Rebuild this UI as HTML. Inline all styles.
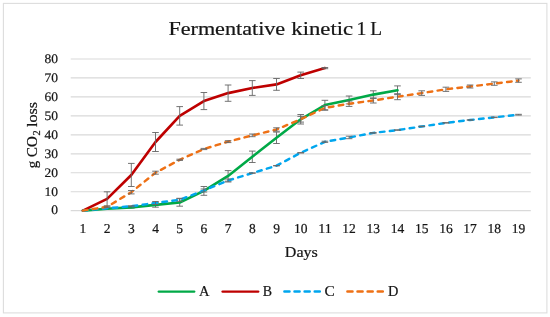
<!DOCTYPE html>
<html><head><meta charset="utf-8"><title>Fermentative kinetic 1 L</title>
<style>
html,body{margin:0;padding:0;background:#fff}
svg{display:block}
text{font-family:"Liberation Serif","DejaVu Serif",serif;fill:#161616;stroke:#161616;stroke-width:0.22px}
</style></head><body>
<svg width="550" height="317" viewBox="0 0 550 317">
<rect width="550" height="317" fill="#fff"/>
<rect x="3.4" y="3.4" width="543.5" height="309.5" fill="none" stroke="#dddddd" stroke-width="1.1"/>
<g stroke="#d9d9d9" stroke-width="1.15"><line x1="70.7" x2="530.8" y1="210.6" y2="210.6"/><line x1="70.7" x2="530.8" y1="191.7" y2="191.7"/><line x1="70.7" x2="530.8" y1="172.7" y2="172.7"/><line x1="70.7" x2="530.8" y1="153.8" y2="153.8"/><line x1="70.7" x2="530.8" y1="134.8" y2="134.8"/><line x1="70.7" x2="530.8" y1="115.8" y2="115.8"/><line x1="70.7" x2="530.8" y1="96.9" y2="96.9"/><line x1="70.7" x2="530.8" y1="77.9" y2="77.9"/><line x1="70.7" x2="530.8" y1="59.0" y2="59.0"/></g>
<text y="35.2" font-size="19.4" stroke="#1a1a1a" stroke-width="0.25"><tspan x="168.4" textLength="116.8" lengthAdjust="spacingAndGlyphs">Fermentative</tspan> <tspan x="291.3" textLength="61.8" lengthAdjust="spacingAndGlyphs">kinetic</tspan> <tspan x="356.4" textLength="10" lengthAdjust="spacingAndGlyphs">1</tspan> <tspan x="370.3" textLength="11.8" lengthAdjust="spacingAndGlyphs">L</tspan></text>
<g font-size="13.0" text-rendering="geometricPrecision"><text x="57.9" y="214.4" text-anchor="end" textLength="6.75" lengthAdjust="spacingAndGlyphs">0</text><text x="57.9" y="195.5" text-anchor="end" textLength="13.50" lengthAdjust="spacingAndGlyphs">10</text><text x="57.9" y="176.5" text-anchor="end" textLength="13.50" lengthAdjust="spacingAndGlyphs">20</text><text x="57.9" y="157.6" text-anchor="end" textLength="13.50" lengthAdjust="spacingAndGlyphs">30</text><text x="57.9" y="138.6" text-anchor="end" textLength="13.50" lengthAdjust="spacingAndGlyphs">40</text><text x="57.9" y="119.6" text-anchor="end" textLength="13.50" lengthAdjust="spacingAndGlyphs">50</text><text x="57.9" y="100.7" text-anchor="end" textLength="13.50" lengthAdjust="spacingAndGlyphs">60</text><text x="57.9" y="81.7" text-anchor="end" textLength="13.50" lengthAdjust="spacingAndGlyphs">70</text><text x="57.9" y="62.8" text-anchor="end" textLength="13.50" lengthAdjust="spacingAndGlyphs">80</text></g>
<g font-size="13.6" text-rendering="geometricPrecision"><text x="82.9" y="233.4" text-anchor="middle" textLength="6.75" lengthAdjust="spacingAndGlyphs">1</text><text x="107.1" y="233.4" text-anchor="middle" textLength="6.75" lengthAdjust="spacingAndGlyphs">2</text><text x="131.3" y="233.4" text-anchor="middle" textLength="6.75" lengthAdjust="spacingAndGlyphs">3</text><text x="155.5" y="233.4" text-anchor="middle" textLength="6.75" lengthAdjust="spacingAndGlyphs">4</text><text x="179.7" y="233.4" text-anchor="middle" textLength="6.75" lengthAdjust="spacingAndGlyphs">5</text><text x="203.9" y="233.4" text-anchor="middle" textLength="6.75" lengthAdjust="spacingAndGlyphs">6</text><text x="228.1" y="233.4" text-anchor="middle" textLength="6.75" lengthAdjust="spacingAndGlyphs">7</text><text x="252.3" y="233.4" text-anchor="middle" textLength="6.75" lengthAdjust="spacingAndGlyphs">8</text><text x="276.5" y="233.4" text-anchor="middle" textLength="6.75" lengthAdjust="spacingAndGlyphs">9</text><text x="300.7" y="233.4" text-anchor="middle" textLength="13.50" lengthAdjust="spacingAndGlyphs">10</text><text x="324.9" y="233.4" text-anchor="middle" textLength="13.50" lengthAdjust="spacingAndGlyphs">11</text><text x="349.1" y="233.4" text-anchor="middle" textLength="13.50" lengthAdjust="spacingAndGlyphs">12</text><text x="373.3" y="233.4" text-anchor="middle" textLength="13.50" lengthAdjust="spacingAndGlyphs">13</text><text x="397.5" y="233.4" text-anchor="middle" textLength="13.50" lengthAdjust="spacingAndGlyphs">14</text><text x="421.7" y="233.4" text-anchor="middle" textLength="13.50" lengthAdjust="spacingAndGlyphs">15</text><text x="445.9" y="233.4" text-anchor="middle" textLength="13.50" lengthAdjust="spacingAndGlyphs">16</text><text x="470.1" y="233.4" text-anchor="middle" textLength="13.50" lengthAdjust="spacingAndGlyphs">17</text><text x="494.3" y="233.4" text-anchor="middle" textLength="13.50" lengthAdjust="spacingAndGlyphs">18</text><text x="518.5" y="233.4" text-anchor="middle" textLength="13.50" lengthAdjust="spacingAndGlyphs">19</text></g>
<text x="301.3" y="256.9" text-anchor="middle" font-size="14.8" textLength="33" lengthAdjust="spacingAndGlyphs">Days</text>
<text transform="translate(36.5 167.9) rotate(-90)" font-size="14.9"><tspan x="-0.3" y="0">g CO</tspan><tspan x="32.4" y="3.1" font-size="10.4">2</tspan> <tspan x="41.0" y="0" textLength="25" lengthAdjust="spacingAndGlyphs">loss</tspan></text>
<g fill="none" stroke-linecap="round" stroke-linejoin="round">
<path stroke="#686868" stroke-width="0.92" stroke-linecap="butt" d="M131.3 206.6V208.1M128.0 206.6h6.6M128.0 208.1h6.6M155.5 202.6V207.2M152.2 202.6h6.6M152.2 207.2h6.6M179.7 198.7V206.2M176.4 198.7h6.6M176.4 206.2h6.6M203.9 186.5V195.3M200.6 186.5h6.6M200.6 195.3h6.6M228.1 170.6V181.2M224.8 170.6h6.6M224.8 181.2h6.6M252.3 151.1V162.5M249.0 151.1h6.6M249.0 162.5h6.6M276.5 132.1V143.5M273.2 132.1h6.6M273.2 143.5h6.6M300.7 114.5V124.0M297.4 114.5h6.6M297.4 124.0h6.6M324.9 100.3V109.8M321.6 100.3h6.6M321.6 109.8h6.6M349.1 96.0V103.9M345.8 96.0h6.6M345.8 103.9h6.6M373.3 90.8V98.4M370.0 90.8h6.6M370.0 98.4h6.6M397.5 85.9V94.6M394.2 85.9h6.6M394.2 94.6h6.6"/>
<polyline stroke="#00a947" stroke-width="2.6" points="82.9,210.6 107.1,208.7 131.3,207.4 155.5,204.9 179.7,202.5 203.9,190.9 228.1,175.9 252.3,156.8 276.5,137.8 300.7,119.3 324.9,105.0 349.1,99.9 373.3,94.6 397.5,90.3"/>
<polyline stroke="#be0000" stroke-width="2.65" points="82.9,210.6 107.1,198.9 131.3,175.0 155.5,142.0 179.7,115.8 203.9,101.1 228.1,93.1 252.3,88.0 276.5,84.4 300.7,75.3 324.9,68.1"/>
<path stroke="#686868" stroke-width="0.92" stroke-linecap="butt" d="M107.1 191.8V205.9M103.8 191.8h6.6M103.8 205.9h6.6M131.3 163.4V186.5M128.0 163.4h6.6M128.0 186.5h6.6M155.5 132.5V151.5M152.2 132.5h6.6M152.2 151.5h6.6M179.7 106.6V125.1M176.4 106.6h6.6M176.4 125.1h6.6M203.9 92.5V109.6M200.6 92.5h6.6M200.6 109.6h6.6M228.1 85.0V101.3M224.8 85.0h6.6M224.8 101.3h6.6M252.3 80.6V95.4M249.0 80.6h6.6M249.0 95.4h6.6M276.5 78.5V90.3M273.2 78.5h6.6M273.2 90.3h6.6M300.7 72.1V78.5M297.4 72.1h6.6M297.4 78.5h6.6M324.9 67.5V68.7M321.6 67.5h6.6M321.6 68.7h6.6"/>
<polyline stroke="#00a6ee" stroke-width="2.45" stroke-dasharray="4.6 5.4" points="82.9,210.6 107.1,208.3 131.3,206.2 155.5,203.0 179.7,199.8 203.9,190.5 228.1,180.5 252.3,173.1 276.5,165.7 300.7,152.8 324.9,141.8 349.1,137.5 373.3,132.9 397.5,130.1 421.7,126.5 445.9,122.9 470.1,120.0 494.3,117.4 518.5,114.7"/>
<path stroke="#686868" stroke-width="0.92" stroke-linecap="butt" d="M131.3 205.7V206.8M128.0 205.7h6.6M128.0 206.8h6.6M155.5 201.5V204.5M152.2 201.5h6.6M152.2 204.5h6.6M179.7 198.3V201.3M176.4 198.3h6.6M176.4 201.3h6.6M203.9 189.0V192.0M200.6 189.0h6.6M200.6 192.0h6.6M228.1 179.0V182.0M224.8 179.0h6.6M224.8 182.0h6.6M252.3 172.9V173.3M249.0 172.9h6.6M249.0 173.3h6.6M276.5 165.5V165.9M273.2 165.5h6.6M273.2 165.9h6.6M300.7 152.6V153.0M297.4 152.6h6.6M297.4 153.0h6.6M324.9 141.2V142.4M321.6 141.2h6.6M321.6 142.4h6.6M349.1 136.2V138.7M345.8 136.2h6.6M345.8 138.7h6.6M373.3 132.7V133.1M370.0 132.7h6.6M370.0 133.1h6.6M397.5 129.8V130.3M394.2 129.8h6.6M394.2 130.3h6.6M421.7 126.2V126.7M418.4 126.2h6.6M418.4 126.7h6.6M445.9 122.6V123.1M442.6 122.6h6.6M442.6 123.1h6.6M470.1 119.8V120.2M466.8 119.8h6.6M466.8 120.2h6.6M494.3 117.1V117.6M491.0 117.1h6.6M491.0 117.6h6.6M518.5 114.3V115.1M515.2 114.3h6.6M515.2 115.1h6.6"/>
<polyline stroke="#ee7015" stroke-width="2.45" stroke-dasharray="4.6 5.4" points="82.9,210.6 107.1,206.8 131.3,192.2 155.5,172.7 179.7,159.8 203.9,149.0 228.1,141.6 252.3,135.4 276.5,129.5 300.7,119.3 324.9,107.9 349.1,103.7 373.3,100.5 397.5,96.7 421.7,93.1 445.9,89.3 470.1,86.5 494.3,83.6 518.5,80.6"/>
<path stroke="#686868" stroke-width="0.92" stroke-linecap="butt" d="M107.1 206.2V207.4M103.8 206.2h6.6M103.8 207.4h6.6M131.3 190.5V193.9M128.0 190.5h6.6M128.0 193.9h6.6M155.5 171.2V174.2M152.2 171.2h6.6M152.2 174.2h6.6M179.7 159.2V160.4M176.4 159.2h6.6M176.4 160.4h6.6M203.9 148.4V149.6M200.6 148.4h6.6M200.6 149.6h6.6M228.1 140.7V142.6M224.8 140.7h6.6M224.8 142.6h6.6M252.3 134.0V136.7M249.0 134.0h6.6M249.0 136.7h6.6M276.5 127.8V131.2M273.2 127.8h6.6M273.2 131.2h6.6M300.7 116.4V122.1M297.4 116.4h6.6M297.4 122.1h6.6M324.9 105.6V110.2M321.6 105.6h6.6M321.6 110.2h6.6M349.1 101.1V106.4M345.8 101.1h6.6M345.8 106.4h6.6M373.3 98.0V103.0M370.0 98.0h6.6M370.0 103.0h6.6M397.5 93.7V99.7M394.2 93.7h6.6M394.2 99.7h6.6M421.7 90.8V95.4M418.4 90.8h6.6M418.4 95.4h6.6M445.9 87.2V91.4M442.6 87.2h6.6M442.6 91.4h6.6M470.1 85.0V88.0M466.8 85.0h6.6M466.8 88.0h6.6M494.3 81.9V85.3M491.0 81.9h6.6M491.0 85.3h6.6M518.5 78.9V82.3M515.2 78.9h6.6M515.2 82.3h6.6"/>
</g>
<g fill="none" stroke-linecap="round" stroke-width="2.4">
<line x1="158.8" x2="194.2" y1="291.6" y2="291.6" stroke="#00a947"/>
<line x1="222.6" x2="258.2" y1="291.6" y2="291.6" stroke="#be0000"/>
<line x1="284.4" x2="320" y1="291.6" y2="291.6" stroke="#00a6ee" stroke-width="2.5" stroke-dasharray="5.1 5.0"/>
<line x1="347.4" x2="383" y1="291.6" y2="291.6" stroke="#ee7015" stroke-width="2.5" stroke-dasharray="5.1 5.0"/>
</g>
<g font-size="13.9" stroke="#1a1a1a" stroke-width="0.2">
<text x="198.9" y="295.7" textLength="10.5" lengthAdjust="spacingAndGlyphs">A</text>
<text x="262.8" y="295.7">B</text>
<text x="324.4" y="295.7" textLength="10.2" lengthAdjust="spacingAndGlyphs">C</text>
<text x="388.0" y="295.7" textLength="10.4" lengthAdjust="spacingAndGlyphs">D</text>
</g>
</svg>
</body></html>
